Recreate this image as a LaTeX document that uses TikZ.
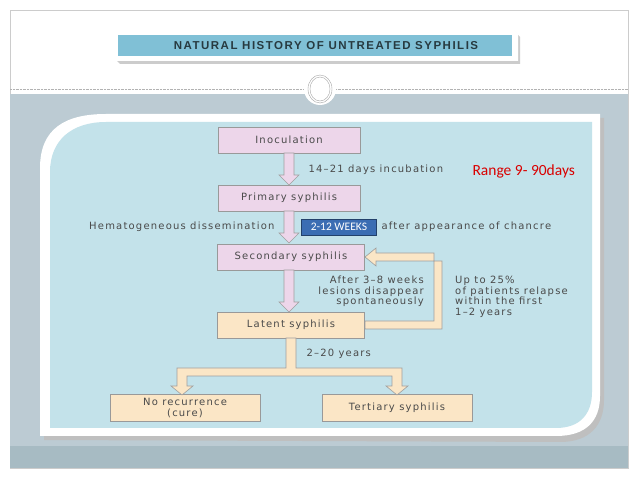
\documentclass[tikz,border=0pt]{standalone}
\usepackage{fontspec}
\setmainfont{Liberation Sans}
\newfontfamily\spaced[LetterSpace=12]{DejaVu Sans}
\newfontfamily\tspaced[LetterSpace=13]{Liberation Sans}
\newfontfamily\carlitofont{Carlito}
\definecolor{panel}{HTML}{C3E2EA}
\definecolor{slide}{HTML}{BCCBD3}
\definecolor{strip}{HTML}{A7BBC3}
\definecolor{pinkb}{HTML}{EDD6EA}
\definecolor{tanb}{HTML}{FBE6C6}
\definecolor{ban}{HTML}{80C0D6}
\definecolor{txt}{HTML}{4A4A4A}
\definecolor{wk}{HTML}{3B6DB3}
\tikzset{
 box/.style={draw=gray!80, line width=0.6pt, minimum height=26pt, font=\spaced\fontsize{10}{11}\selectfont, text=txt, align=center},
 pbox/.style={box, fill=pinkb},
 tbox/.style={box, fill=tanb},
 lab/.style={font=\spaced\fontsize{10}{10.5}\selectfont, text=txt},
 harr/.style={draw=gray!75, line width=0.6pt, line join=miter},
}
\newcommand{\darr}[4]{% x, ytop, ybot, fill
 \filldraw[harr, fill=#4] (#1-5,#2) -- (#1-5,#3-10) -- (#1-10,#3-10) -- (#1,#3) -- (#1+10,#3-10) -- (#1+5,#3-10) -- (#1+5,#2) -- cycle;}
\begin{document}
\begin{tikzpicture}[x=1pt,y=-1pt]
\useasboundingbox (0,0) rectangle (638,478);
\fill[white] (0,0) rectangle (638,478);
\draw[gray!40] (10,10) rectangle (628,468);
\fill[slide] (10,94) rectangle (628,468);
\fill[strip] (10,446) rectangle (628,468);
\draw[gray!60, densely dotted] (10,89) -- (628,89);
% title banner
\fill[gray!40] (114,31) -- (514,31) -- (520,37) -- (520,64) -- (120,64) -- (114,58) -- cycle;
\fill[white] (110,28) -- (512,28) -- (518,34) -- (518,61) -- (116,61) -- (110,55) -- cycle;
\fill[ban] (118,35) rectangle (512,56);
\node[font=\tspaced\bfseries\fontsize{11.5}{12}\selectfont, text=black!70!ban] (title) at (326,46) {NATURAL HISTORY OF UNTREATED SYPHILIS};
% circle
\fill[white] (320,89) circle (16);
\draw[gray!70] (320,89) ellipse (12 and 14);
\draw[gray!70] (320,89) ellipse (10 and 12);
% main panel
\fill[gray!50] (44,440) -- (44,170) .. controls (44,130) and (70,118) .. (110,118) -- (604,118) -- (604,400) .. controls (604,425) and (590,442) .. (560,442) -- cycle;
\fill[white] (40,436) -- (40,168) .. controls (40,128) and (66,114) .. (106,114) -- (600,114) -- (600,396) .. controls (600,421) and (586,436) .. (556,436) -- cycle;
\fill[panel] (50,428) -- (50,172) .. controls (50,140) and (72,122) .. (106,122) -- (592,122) -- (592,392) .. controls (592,414) and (580,428) .. (556,428) -- cycle;
% boxes
\node[pbox, minimum width=142pt] (ino) at (289,140) {Inoculation};
\node[pbox, minimum width=142pt] (pri) at (289,198) {Primary syphilis};
\node[pbox, minimum width=147pt] (sec) at (291,257) {Secondary syphilis};
\node[tbox, minimum width=147pt] (lat) at (291,325) {Latent syphilis};
\node[tbox, minimum width=150pt, minimum height=27pt] (nor) at (185,408) {No recurrence\\(cure)};
\node[tbox, minimum width=150pt, minimum height=27pt] (ter) at (397,408) {Tertiary syphilis};
% arrows
\darr{289}{153}{185}{pinkb}
\darr{289}{211}{243}{pinkb}
\darr{289}{270}{312}{pinkb}
\filldraw[harr, fill=tanb] (286,338) -- (286,368) -- (177,368) -- (177,386) -- (171,386) -- (182,395) -- (193,386) -- (187,386) -- (187,376) -- (392,376) -- (392,386) -- (386,386) -- (397,395) -- (408,386) -- (402,386) -- (402,368) -- (296,368) -- (296,338) -- cycle;
\filldraw[harr, fill=tanb] (365,321) -- (434,321) -- (434,253) -- (376,253) -- (376,248) -- (365,257) -- (376,266) -- (376,261) -- (442,261) -- (442,329) -- (365,329) -- cycle;
% labels
\node[lab, anchor=west] (l1) at (305,170) {14–21 days incubation};
\node[anchor=west, text=red!85!black, font=\carlitofont\fontsize{15.5}{16}\selectfont] (rng) at (469,171) {Range 9- 90days};
\node[lab, anchor=east] (l2) at (278,227) {Hematogeneous dissemination};
\node[fill=wk, draw=wk!60!black, text=white, font=\carlitofont\fontsize{11.5}{12}\selectfont, minimum width=75pt, minimum height=16pt, inner sep=1pt] (wks) at (339,227) {2-12 WEEKS};
\node[lab, anchor=west] (l3) at (378,227) {after appearance of chancre};
\node[lab, anchor=north east, align=right, inner sep=0pt] (l4) at (424,276) {After 3–8 weeks\\lesions disappear\\spontaneously};
\node[lab, anchor=north west, align=left, inner sep=0pt] (l5) at (455,276) {Up to 25\%\\of patients relapse\\within the first\\1–2 years};
\node[lab, anchor=west] (l6) at (303,354) {2–20 years};
\end{tikzpicture}
\end{document}
